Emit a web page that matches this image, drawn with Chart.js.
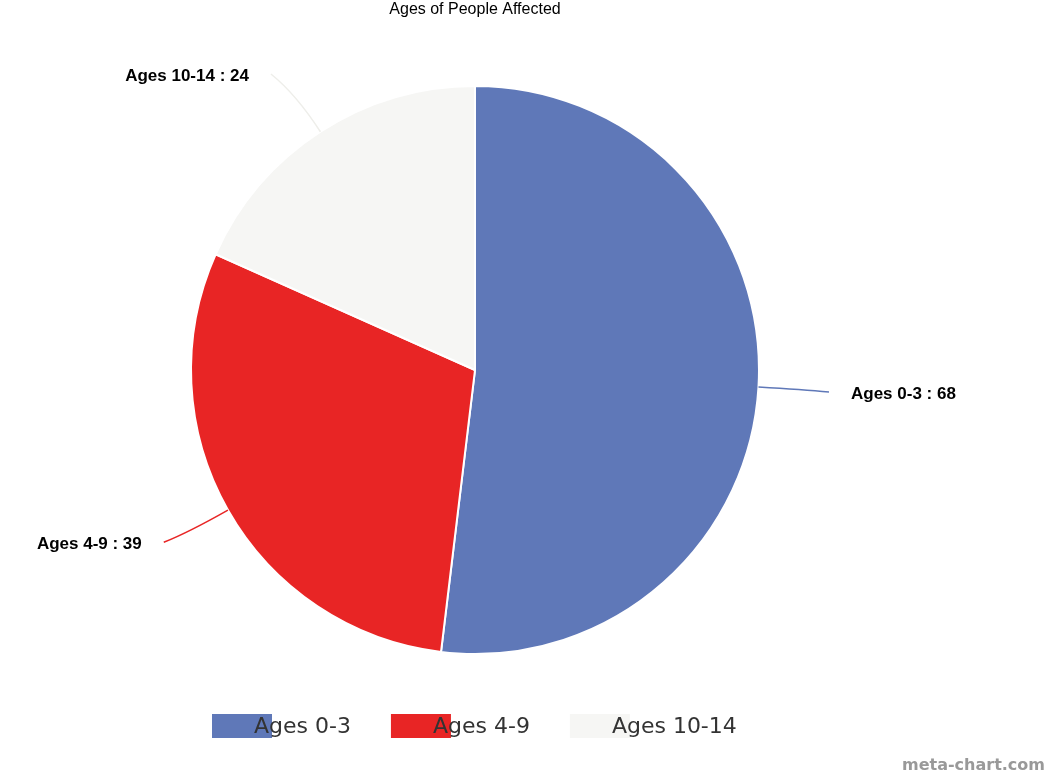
<!DOCTYPE html>
<html><head><meta charset="utf-8">
<script src="https://cdn.jsdelivr.net/npm/chart.js@4/dist/chart.umd.min.js"></script>
<style>html,body{margin:0;padding:0;background:#fff}#w{width:1054px;height:772px;position:relative}</style>
</head><body><div id="w"><canvas id="c"></canvas></div>
<script>
const categories = ["Ages 0-3", "Ages 4-9", "Ages 10-14"];
const values = [68, 39, 24];
const colors = ["#5f78b8", "#e82525", "#f6f6f4"];
const lineColors = ["#5f78b8", "#e82525", "#eeeeea"];
const titleText = "Ages of People Affected";

const deco = {
  id: "deco",
  afterDraw(chart) {
    const ctx = chart.ctx;
    const meta = chart.getDatasetMeta(0);
    ctx.save();
    // title
    ctx.fillStyle = "#000"; ctx.font = "16px 'Liberation Sans', Arial, sans-serif";
    ctx.textAlign = "center"; ctx.textBaseline = "middle";
    ctx.fillText(titleText, 475, 10);
    // labels
    meta.data.forEach((arc, i) => {
      const p = arc.getProps(["x","y","startAngle","endAngle","outerRadius"], true);
      const a = (p.startAngle + p.endAngle) / 2;
      const sx = p.x + Math.cos(a) * p.outerRadius, sy = p.y + Math.sin(a) * p.outerRadius;
      const ex = p.x + Math.cos(a) * (p.outerRadius + 45), ey = p.y + Math.sin(a) * (p.outerRadius + 45);
      const right = Math.cos(a) >= 0;
      const fx = right ? p.x + p.outerRadius + 70 : ex - 25 ;
      const fy = right ? sy + 5 : ey + (Math.sin(a) > 0 ? 10 : -20);
      ctx.strokeStyle = lineColors[i]; ctx.lineWidth = 1.5;
      ctx.beginPath(); ctx.moveTo(sx, sy);
      ctx.quadraticCurveTo(ex, ey, fx, fy); ctx.stroke();
      ctx.fillStyle = "#000"; ctx.font = "bold 17px 'Liberation Sans', Arial, sans-serif";
      ctx.textAlign = right ? "left" : "right"; ctx.textBaseline = "middle";
      ctx.fillText(categories[i] + " : " + values[i], right ? fx + 22 : fx - 22, fy + 2);
    });
    // legend
    ctx.font = "22px 'DejaVu Sans', sans-serif"; ctx.textAlign = "left";
    let x = 212;
    categories.forEach((c, i) => {
      ctx.fillStyle = colors[i]; ctx.fillRect(x, 714, 60, 24);
      ctx.fillStyle = "#333"; ctx.fillText(c, x + 42 + 0 + 0, 727);
      const w = ctx.measureText(c).width;
      ctx.fillStyle = "#333";
      x += 42 + w + 40;
    });
    // watermark
    ctx.fillStyle = "#999"; ctx.font = "bold 16px 'DejaVu Sans', sans-serif";
    ctx.textAlign = "right"; ctx.fillText("meta-chart.com", 1045, 766);
    ctx.restore();
  }
};

new Chart(document.getElementById("c"), {
  type: "pie",
  data: { labels: categories, datasets: [{ data: values, backgroundColor: colors, borderColor: "#fff", borderWidth: 2 }] },
  options: {
    responsive: true, maintainAspectRatio: false, animation: false,
    layout: { padding: { top: 85, bottom: 117, left: 0, right: 104 } },
    plugins: { legend: { display: false }, title: { display: false }, tooltip: { enabled: false } }
  },
  plugins: [deco]
});
</script></body></html>
